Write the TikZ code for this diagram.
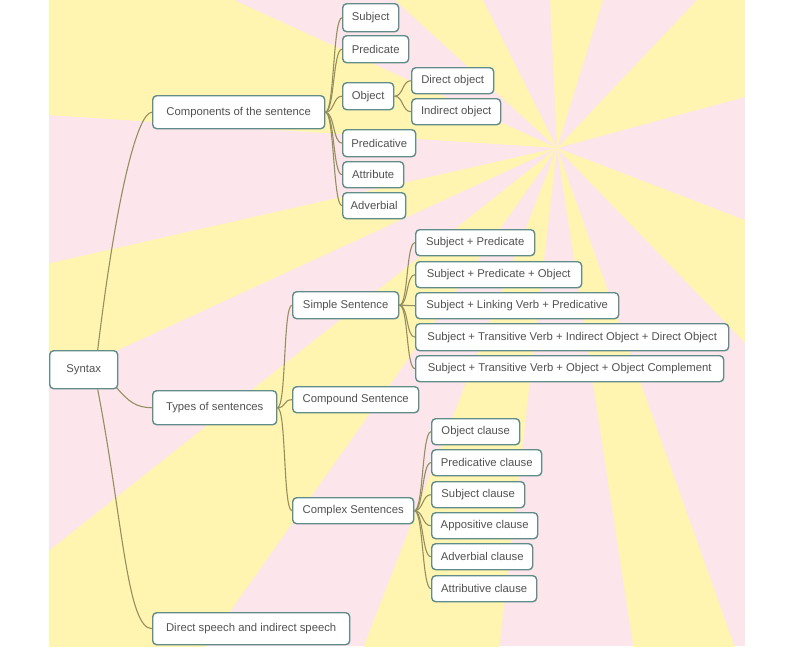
\documentclass[tikz,border=0pt]{standalone}
\usepackage{fontspec}
\setmainfont{Liberation Sans}
\usepackage{tikz}

\definecolor{raypink}{RGB}{253,229,236}
\definecolor{rayyellow}{RGB}{255,245,176}
\definecolor{boxline}{RGB}{96,140,138}
\definecolor{linkline}{RGB}{148,143,96}
\definecolor{boxtext}{RGB}{82,82,82}

\begin{document}
\begin{tikzpicture}
	[x=1pt,y=-1pt,
		base node/.style={draw=boxline,line width=1.4pt,fill=white,rounded corners=4pt,
			anchor=north west,inner sep=0pt,text=boxtext,font=\fontsize{11.3}{13}\selectfont},
		topic node/.style={base node,minimum height=33pt},
		leaf node/.style={base node,minimum height=26pt},
		link/.style={draw=linkline,line width=1.1pt},
		branch/.style={out=0,in=180,distance=9pt}]

	\useasboundingbox (0,0) rectangle (800,659);

	% sunburst background
	\coordinate (sun) at (557,148);
	\begin{scope}
		\clip (49,0) rectangle (745,646);
		\fill[raypink] (49,0) rectangle (745,646);
		\fill[rayyellow] (sun) -- +(155.4:1200pt) -- +(176.3:1200pt) -- cycle;
		\fill[rayyellow] (sun) -- +(116.6:1200pt) -- +(137.6:1200pt) -- cycle;
		\fill[rayyellow] (sun) -- +(72.7:1200pt) -- +(92.7:1200pt) -- cycle;
		\fill[rayyellow] (sun) -- +(15.2:1200pt) -- +(46.6:1200pt) -- cycle;
		\fill[rayyellow] (sun) -- +(-46:1200pt) -- +(-21:1200pt) -- cycle;
		\fill[rayyellow] (sun) -- +(-81.3:1200pt) -- +(-70.4:1200pt) -- cycle;
		\fill[rayyellow] (sun) -- +(-111.2:1200pt) -- +(-96.6:1200pt) -- cycle;
		\fill[rayyellow] (sun) -- +(-141.6:1200pt) -- +(-125.2:1200pt) -- cycle;
		\fill[rayyellow] (sun) -- +(-167.2:1200pt) -- +(-155.3:1200pt) -- cycle;
	\end{scope}

	\node[topic node,minimum width=68pt,minimum height=38pt] (syn) at (49,350) {Syntax};

	\node[topic node,minimum width=172pt] (comp) at (152,95) {Components of the sentence};
	\node[topic node,minimum width=124pt,minimum height=34pt] (types) at (152,390) {Types of sentences};
	\node[topic node,minimum width=197pt,minimum height=32pt] (speech) at (152,612) {Direct speech and indirect speech};

	% components
	\node[leaf node,minimum width=56pt,minimum height=28pt] (subj) at (342,3) {Subject};
	\node[leaf node,minimum width=66pt,minimum height=27pt] (pred) at (342,35) {Predicate};
	\node[leaf node,minimum width=51pt,minimum height=27pt] (obj) at (342,82) {Object};
	\node[leaf node,minimum width=73pt,minimum height=27pt] (predv) at (342,129) {Predicative};
	\node[leaf node,minimum width=61pt] (attr) at (342,161) {Attribute};
	\node[leaf node,minimum width=63pt] (adv) at (342,192) {Adverbial};
	\node[leaf node,minimum width=82pt] (dobj) at (411,67) {Direct object};
	\node[leaf node,minimum width=89pt] (iobj) at (411,98) {Indirect object};

	% types
	\node[leaf node,minimum width=106pt,minimum height=27pt] (simple) at (292,291) {Simple Sentence};
	\node[leaf node,minimum width=126pt] (compound) at (292,386) {Compound Sentence};
	\node[leaf node,minimum width=121pt] (complex) at (292,497) {Complex Sentences};

	\node[leaf node,minimum width=119pt] (sp) at (415,229) {Subject + Predicate};
	\node[leaf node,minimum width=166pt] (spo) at (415,261) {Subject + Predicate + Object};
	\node[leaf node,minimum width=203pt] (slp) at (415,292) {Subject + Linking Verb + Predicative};
	\node[leaf node,minimum width=313pt,minimum height=27pt] (stio) at (415,323) {Subject + Transitive Verb + Indirect Object + Direct Object};
	\node[leaf node,minimum width=308pt] (stoc) at (415,355) {Subject + Transitive Verb + Object + Object Complement};

	\node[leaf node,minimum width=88pt] (oc) at (431,418) {Object clause};
	\node[leaf node,minimum width=110pt] (pc) at (431,449) {Predicative clause};
	\node[leaf node,minimum width=93pt] (sc) at (431,481) {Subject clause};
	\node[leaf node,minimum width=106pt] (ac) at (431,512) {Appositive clause};
	\node[leaf node,minimum width=101pt] (avc) at (431,543) {Adverbial clause};
	\node[leaf node,minimum width=105pt] (atc) at (431,575) {Attributive clause};

	\path[link]
	([xshift=14pt]syn.north) .. controls +(18,-150) and +(-15,0) .. (comp.west)
	([xshift=14pt]syn.south) .. controls +(25,130) and +(-25,0) .. (speech.west)
	([xshift=-2pt,yshift=2pt]syn.south east) .. controls +(12,14) and +(-16,0) .. (types.west)
	(comp.east) edge [branch] (subj.west)
	            edge [branch] (pred.west)
	            edge [branch] (obj.west)
	            edge [branch] (predv.west)
	            edge [branch] (attr.west)
	            edge [branch] (adv.west)
	(obj.east)  edge [branch] (dobj.west)
	            edge [branch] (iobj.west)
	(types.east) edge [branch] (simple.west)
	             edge [branch] (compound.west)
	             edge [branch] (complex.west)
	(simple.east) edge [branch] (sp.west)
	              edge [branch] (spo.west)
	              edge [branch] (slp.west)
	              edge [branch] (stio.west)
	              edge [branch] (stoc.west)
	(complex.east) edge [branch] (oc.west)
	               edge [branch] (pc.west)
	               edge [branch] (sc.west)
	               edge [branch] (ac.west)
	               edge [branch] (avc.west)
	               edge [branch] (atc.west)
	;
\end{tikzpicture}
\end{document}
